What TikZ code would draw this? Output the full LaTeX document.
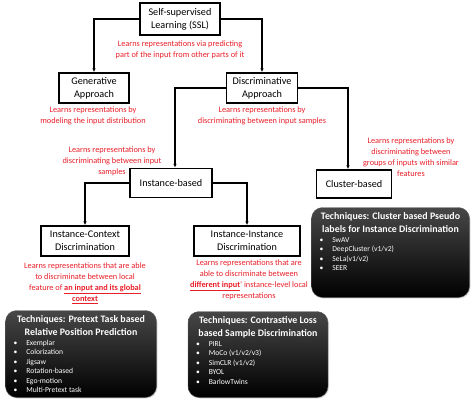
\documentclass[tikz,border=0pt]{standalone}
\usepackage{fontspec}
\setmainfont{Carlito}
\usepackage{xcolor}
\usepackage{tikz}
\usetikzlibrary{arrows.meta, positioning, shadows}

\definecolor{lrnred}{RGB}{232,30,40}

% text helpers for the black technique boxes
\newcommand{\techtitle}{\bfseries\fontsize{9.9}{13.5}\selectfont}
\newcommand{\titem}[1]{\par\hspace*{6pt}\textbullet\hspace{9pt}#1}
\newcommand{\techlist}[4]{\parbox[c][#2][t]{#1}{\vspace*{3pt}{\centering\techtitle #3\par}
  \raggedright\fontsize{7.6}{9.5}\selectfont #4}}

\tikzset{
  catbox/.style={draw, line width=1.5pt, align=center, inner sep=2pt,
    font=\fontsize{10.2}{13}\selectfont},
  note/.style={text=lrnred, align=center, inner sep=0pt,
    font=\fontsize{8.3}{11}\selectfont},
  techbox/.style={rounded corners=11pt, draw=black!60, text=white,
    top color=black!72, bottom color=black, inner sep=2pt,
    drop shadow={opacity=0.25, shadow xshift=1pt, shadow yshift=-1pt}},
  conn/.style={line width=1.2pt, -{Latex[length=4pt,width=3.5pt]}}
}

\begin{document}
\begin{tikzpicture}[x=1pt, y=-1pt]
    \useasboundingbox (0,0) rectangle (474,402);

    % categories
    \node[catbox, minimum width=80, minimum height=32] (ssl) at (180,19)
        {Self-supervised\\ Learning (SSL)};
    \node[catbox, minimum width=70, minimum height=30] (gen) at (94,88)
        {Generative\\ Approach};
    \node[catbox, minimum width=71, minimum height=30] (disc) at (262,88)
        {Discriminative\\ Approach};
    \node[catbox, minimum width=82, minimum height=29] (inst) at (171,183)
        {Instance-based};
    \node[catbox, minimum width=75, minimum height=28] (clu) at (354,184)
        {Cluster-based};
    \node[catbox, minimum width=88, minimum height=30] (icd) at (85,241)
        {Instance-Context\\ Discrimination};
    \node[catbox, minimum width=106, minimum height=30] (iid) at (247,241)
        {Instance-Instance\\ Discrimination};

    % red notes
    \node[note] (sslnote) at (180,49.5)
        {Learns representations via predicting\\ part of the input from other parts of it};
    \node[note] (gennote) at (93,115.5)
        {Learns representations by\\ modeling the input distribution};
    \node[note] (discnote) at (262,116)
        {Learns representations by\\ discriminating between input samples};
    \node[note] (instnote) at (112,161)
        {Learns representations by\\ discriminating between input\\ samples};
    \node[note] (clunote) at (411,157)
        {Learns representations by\\ discriminating between\\ groups of inputs with similar\\ features};
    \node[note] (icdnote) at (85,283.5)
        {Learns representations that are able\\ to discriminate between local\\
         feature of \underline{\textbf{an input and its global}}\\ \underline{\textbf{context}}};
    \node[note] (iidnote) at (249,279.5)
        {Learns representations that are\\ able to discriminate between\\
         \underline{\textbf{different input}}' instance-level local\\ representations};

    % techniques
    \node[techbox] (clubox) at (390.5,252.5)
        {\techlist{154pt}{86pt}{Techniques: Cluster based Pseudo\\ labels for Instance Discrimination}
        {\titem{SwAV}\titem{DeepCluster (v1/v2)}\titem{SeLa(v1/v2)}\titem{SEER}}};
    \node[techbox] (pretext) at (81,354)
        {\techlist{147pt}{83pt}{Techniques: Pretext Task based\\ Relative Position Prediction}
        {\titem{Exemplar}\titem{Colorization}\titem{Jigsaw}\titem{Rotation-based}\titem{Ego-motion}\titem{Multi-Pretext task}}};
    \node[techbox] (contrast) at (258,354.5)
        {\techlist{136pt}{82pt}{Techniques: Contrastive Loss\\ based Sample Discrimination}
        {\titem{PIRL}\titem{MoCo (v1/v2/v3)}\titem{SimCLR (v1/v2)}\titem{BYOL}\titem{BarlowTwins}}};

    % connectors
    \draw[conn] (ssl.west) -| (gen.north);
    \draw[conn] (ssl.east) -| (disc.north);
    \draw[conn] (disc.west) -| ([xshift=4pt]inst.north);
    \draw[conn] (disc.east) -| ([xshift=-6pt]clu.north);
    \draw[conn] (inst.west) -| (icd.north);
    \draw[conn] (inst.east) -| (iid.north);
\end{tikzpicture}
\end{document}
